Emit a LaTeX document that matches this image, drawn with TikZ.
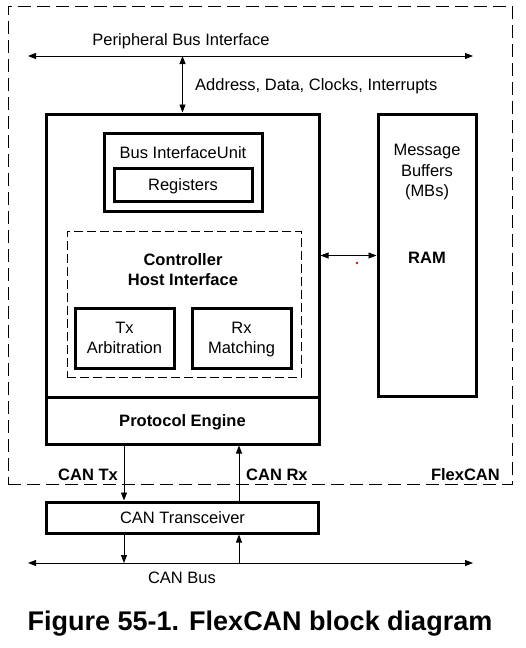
\documentclass[tikz,border=0pt]{standalone}
\usepackage{fontspec}
\setmainfont{Liberation Sans}
\usepackage{xcolor}
\usepackage{tikz}
\usetikzlibrary{arrows.meta,positioning}
\definecolor{figRed}{HTML}{E00000}

\begin{document}
\begin{tikzpicture}[
  x=1pt, y=-1pt,
  every node/.style={font=\fontsize{16.5}{20.5}\selectfont},
  block/.style={
    rectangle, draw=black, line width=3pt,
    inner sep=0pt, align=center, text depth=0pt
  },
  dashbox/.style={
    rectangle, draw=black, line width=0.9pt,
    dash pattern=on 9pt off 4pt, inner sep=0pt
  },
  outerbox/.style={
    rectangle, draw=black, line width=0.9pt,
    dash pattern=on 13pt off 6pt, inner sep=0pt
  },
  lbl/.style={inner sep=0pt, align=center, yshift=-1.5pt},
  boldlbl/.style={lbl, font=\fontsize{16.5}{20.5}\selectfont\bfseries},
  arr/.style={-{Triangle[length=8pt,width=6pt]}, line width=0.9pt},
  biarr/.style={{Triangle[length=8pt,width=6pt]}-{Triangle[length=8pt,width=6pt]}, line width=0.9pt}
]
\useasboundingbox (0,0) rectangle (526,648);

% FlexCAN module frame
\node[outerbox, minimum width=504pt, minimum height=478pt] (flexcan) at (260,245) {};
\node[boldlbl, anchor=east] (flexlbl) at (500,473) {FlexCAN};

% Peripheral bus
\coordinate (pbiL) at (28,56);
\coordinate (pbiR) at (473,56);
\node[lbl] (pbilbl) at (181,40) {Peripheral Bus Interface};

% Host side
\node[block, minimum width=273pt, minimum height=283pt] (host) at (182.5,255.5) {};
\node[block, minimum width=273pt, minimum height=47pt] (pe) at (182.5,420.5) {};
\node[boldlbl] (pelbl) at (182.5,421) {Protocol Engine};

\node[block, minimum width=158pt, minimum height=78pt] (biu) at (183,172) {};
\node[lbl] (biulbl) at (183,151) {Bus InterfaceUnit};
\node[block, minimum width=138pt, minimum height=33pt] (regs) at (183,184.5) {Registers};

\node[dashbox, minimum width=234pt, minimum height=146pt] (chi) at (184,304) {};
\node[boldlbl] (chilbl) at (183,268) {Controller\\Host Interface};
\node[block, minimum width=99pt, minimum height=60pt] (txa) at (124.5,338) {Tx\\Arbitration};
\node[block, minimum width=99pt, minimum height=60pt] (rxm) at (241.5,338) {Rx\\Matching};

% Message buffers
\node[block, minimum width=98pt, minimum height=282pt] (ram) at (427,255) {};
\node[lbl] (mblbl) at (427,171) {Message\\Buffers\\(MBs)};
\node[boldlbl] (ramlbl) at (427,256) {RAM};
\fill[figRed] (357,263) circle (1.3pt);

% Transceiver and CAN bus
\node[block, minimum width=272pt, minimum height=31pt] (trx) at (182.5,517.5) {CAN Transceiver};
\coordinate (busL) at (28,563);
\coordinate (busR) at (473,563);
\node[lbl] (buslbl) at (182,576) {CAN Bus};
\coordinate (txx) at (124,0);
\coordinate (rxx) at (239,0);
\node[boldlbl, anchor=east] (txlbl) at (118,473) {CAN Tx};
\node[boldlbl, anchor=west] (rxlbl) at (246,473) {CAN Rx};

% Arrows
\draw[biarr] (pbiL) -- (pbiR);
\draw[biarr] (host.north |- pbiL) -- (host.north);
\node[lbl, anchor=west] (adlbl) at (195,85) {Address, Data, Clocks, Interrupts};
\draw[biarr] (host.east) -- (host.east -| ram.west);
\draw[arr] (pe.south -| txx) -- (trx.north -| txx);
\draw[arr] (trx.north -| rxx) -- (pe.south -| rxx);
\draw[arr] (trx.south -| txx) -- (busL -| txx);
\draw[arr] (busL -| rxx) -- (trx.south -| rxx);
\draw[biarr] (busL) -- (busR);

% Caption
\node[lbl, font=\fontsize{27}{32}\selectfont\bfseries] (caption) at (260,622) {Figure 55-1. FlexCAN block diagram};

\end{tikzpicture}
\end{document}
